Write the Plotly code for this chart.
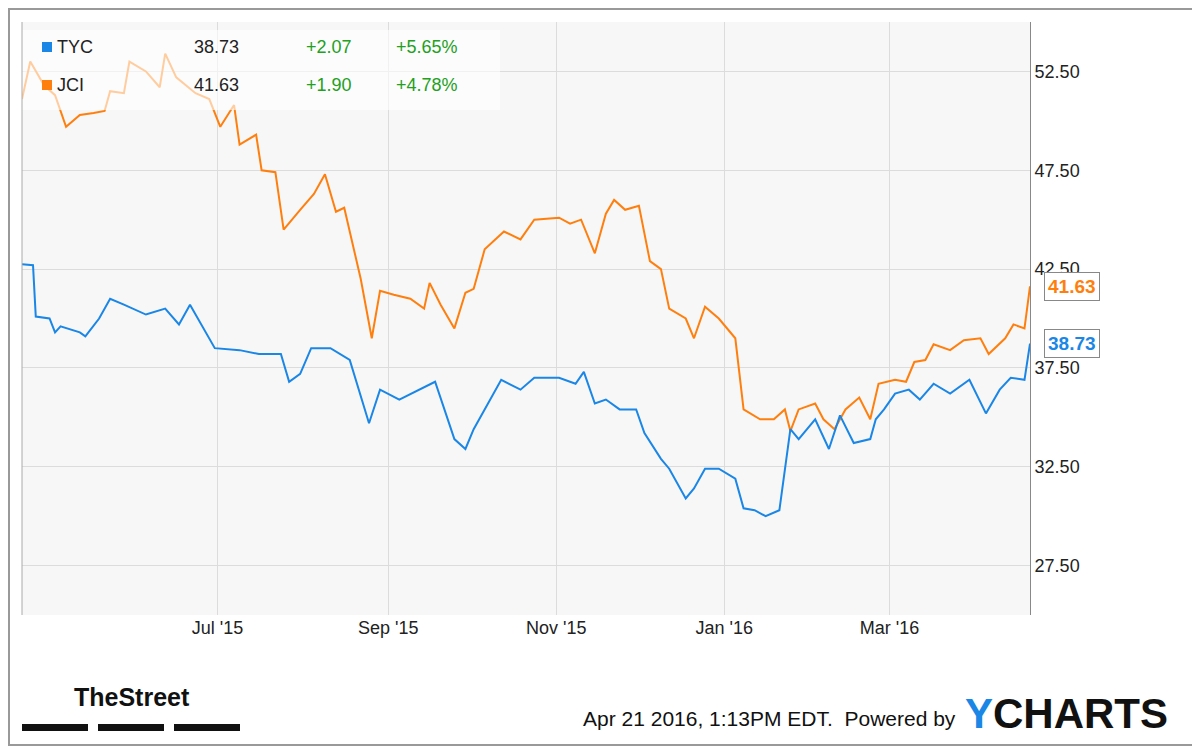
import plotly.graph_objects as go

tyc_dates = ["2015-04-21","2015-04-25","2015-04-26","2015-05-01","2015-05-03","2015-05-05","2015-05-12","2015-05-14","2015-05-19","2015-05-23","2015-05-28","2015-06-05","2015-06-12","2015-06-17","2015-06-21","2015-06-26","2015-06-30","2015-07-09","2015-07-16","2015-07-24","2015-07-27","2015-07-31","2015-08-04","2015-08-11","2015-08-18","2015-08-25","2015-08-29","2015-09-05","2015-09-12","2015-09-18","2015-09-25","2015-09-29","2015-10-02","2015-10-08","2015-10-12","2015-10-19","2015-10-24","2015-11-02","2015-11-08","2015-11-11","2015-11-15","2015-11-19","2015-11-24","2015-11-30","2015-12-03","2015-12-09","2015-12-12","2015-12-18","2015-12-21","2015-12-25","2015-12-30","2016-01-05","2016-01-08","2016-01-12","2016-01-16","2016-01-21","2016-01-25","2016-01-28","2016-02-03","2016-02-08","2016-02-12","2016-02-17","2016-02-23","2016-02-25","2016-02-28","2016-03-03","2016-03-08","2016-03-12","2016-03-17","2016-03-23","2016-03-30","2016-04-05","2016-04-10","2016-04-14","2016-04-19","2016-04-21"]
tyc_values = [42.75,42.7,40.1,40.0,39.3,39.6,39.3,39.1,40.0,41.0,40.7,40.2,40.5,39.7,40.7,39.5,38.5,38.4,38.2,38.2,36.8,37.2,38.5,38.5,37.9,34.7,36.4,35.9,36.4,36.8,33.9,33.4,34.4,35.9,36.9,36.4,37.0,37.0,36.7,37.3,35.7,35.9,35.4,35.4,34.2,32.9,32.4,30.9,31.4,32.4,32.4,31.9,30.4,30.3,30.0,30.3,34.4,33.9,34.9,33.4,35.1,33.7,33.9,34.9,35.4,36.2,36.4,35.9,36.7,36.2,36.9,35.2,36.4,37.0,36.9,38.73]

jci_dates = ["2015-04-21","2015-04-24","2015-04-29","2015-05-03","2015-05-07","2015-05-12","2015-05-17","2015-05-21","2015-05-23","2015-05-28","2015-05-30","2015-06-05","2015-06-10","2015-06-12","2015-06-16","2015-06-23","2015-06-28","2015-07-02","2015-07-07","2015-07-09","2015-07-15","2015-07-17","2015-07-22","2015-07-25","2015-07-31","2015-08-05","2015-08-09","2015-08-13","2015-08-16","2015-08-22","2015-08-26","2015-08-29","2015-09-03","2015-09-09","2015-09-14","2015-09-16","2015-09-20","2015-09-25","2015-09-29","2015-10-02","2015-10-06","2015-10-10","2015-10-13","2015-10-19","2015-10-24","2015-11-02","2015-11-06","2015-11-10","2015-11-15","2015-11-19","2015-11-22","2015-11-26","2015-12-01","2015-12-05","2015-12-09","2015-12-12","2015-12-18","2015-12-21","2015-12-25","2015-12-30","2016-01-05","2016-01-08","2016-01-14","2016-01-19","2016-01-23","2016-01-25","2016-01-28","2016-02-03","2016-02-06","2016-02-10","2016-02-14","2016-02-19","2016-02-23","2016-02-26","2016-03-03","2016-03-07","2016-03-10","2016-03-14","2016-03-17","2016-03-23","2016-03-28","2016-04-03","2016-04-06","2016-04-12","2016-04-15","2016-04-19","2016-04-21"]
jci_values = [51.1,53.0,51.8,51.3,49.7,50.3,50.4,50.5,51.5,51.4,53.0,52.5,51.7,53.4,52.2,51.4,51.1,49.7,50.8,48.8,49.3,47.5,47.4,44.5,45.5,46.3,47.3,45.4,45.6,42.0,39.0,41.4,41.2,41.0,40.5,41.8,40.7,39.5,41.3,41.5,43.5,44.0,44.4,44.0,45.0,45.1,44.8,45.0,43.3,45.3,46.0,45.5,45.7,42.9,42.5,40.5,40.0,39.0,40.6,40.0,39.0,35.4,34.9,34.9,35.4,34.3,35.4,35.7,34.9,34.4,35.4,36.0,34.9,36.7,36.9,36.8,37.8,37.9,38.7,38.4,38.9,39.0,38.2,39.0,39.7,39.5,41.63]

y_ticks = [27.5, 32.5, 37.5, 42.5, 47.5, 52.5]
x_ticks = ["2015-07-01","2015-09-01","2015-11-01","2016-01-01","2016-03-01"]
x_labels = ["Jul '15","Sep '15","Nov '15","Jan '16","Mar '16"]

legend_rows = [("TYC", "38.73", "+2.07", "+5.65%", "#1a86e6"),
               ("JCI", "41.63", "+1.90", "+4.78%", "#ff7f0e")]

BLUE = "#1a86e6"
ORANGE = "#ff7f0e"
FONT = "Liberation Sans, Arial, sans-serif"
OFF = 8  # page offset of the figure

def px(x):
    return (x - 22) / 1008

def py(y):
    return (615 - y) / 593

fig = go.Figure()
fig.add_trace(go.Scatter(x=jci_dates, y=jci_values, mode="lines",
                         line=dict(color=ORANGE, width=2), hoverinfo="skip"))
fig.add_trace(go.Scatter(x=tyc_dates, y=tyc_values, mode="lines",
                         line=dict(color=BLUE, width=2), hoverinfo="skip"))

shapes = [
    dict(type="rect", xref="paper", yref="paper", x0=0, x1=px(500), y0=py(110), y1=py(30),
         fillcolor="rgba(255,255,255,0.6)", line=dict(width=0), layer="above"),
    dict(type="rect", xref="paper", yref="paper", x0=px(9), x1=px(1198), y0=py(745), y1=py(9),
         fillcolor="rgba(0,0,0,0)", line=dict(color="#999", width=2), layer="below"),
    dict(type="line", xref="paper", yref="paper", x0=0, x1=0, y0=0, y1=1,
         line=dict(color="#aaa", width=1)),
]
for x0 in [22, 98, 174]:
    shapes.append(dict(type="rect", xref="paper", yref="paper",
                       x0=px(x0), x1=px(x0 + 66), y0=py(731), y1=py(724),
                       fillcolor="#111", line=dict(width=0)))

ann = []
for i, (name, price, chg, pct, col) in enumerate(legend_rows):
    yc = 47 + i * 38
    shapes.append(dict(type="rect", xref="paper", yref="paper",
                       x0=px(42), x1=px(52), y0=py(yc + 5), y1=py(yc - 5),
                       fillcolor=col, line=dict(width=0), layer="above"))
    for xp, txt, c in [(55, name, "#222"), (192, price, "#222"), (304, chg, "#22a022"), (394, pct, "#22a022")]:
        ann.append(dict(xref="paper", yref="paper", x=px(xp), y=py(yc), text=txt,
                        showarrow=False, xanchor="left", yanchor="middle",
                        font=dict(family=FONT, size=18, color=c)))

for val, col in [(41.63, ORANGE), (38.73, BLUE)]:
    ann.append(dict(xref="paper", yref="y", x=px(1044), y=val, text="<b>%.2f</b>" % val,
                    showarrow=False, xanchor="left", yanchor="middle",
                    font=dict(family=FONT, size=19, color=col),
                    bgcolor="white", bordercolor="#888", borderwidth=1, borderpad=3))

ann.append(dict(xref="paper", yref="paper", x=px(132), y=py(697),
                text="<b>TheStreet</b>", showarrow=False, xanchor="center", yanchor="middle",
                font=dict(family="Liberation Sans Narrow, Liberation Sans, sans-serif", size=25, color="#111")))
ann.append(dict(xref="paper", yref="paper", x=px(958), y=py(718),
                text="Apr 21 2016, 1:13PM EDT.  Powered by", showarrow=False, xanchor="right", yanchor="middle",
                font=dict(family="Liberation Sans Narrow, Liberation Sans, sans-serif", size=21, color="#111")))
ann.append(dict(xref="paper", yref="paper", x=px(963), y=py(713),
                text="<b><span style='color:#1a86e6'>Y</span>CHARTS</b>", showarrow=False,
                xanchor="left", yanchor="middle",
                font=dict(family=FONT, size=42, color="#111")))

fig.update_layout(
    width=1200 - OFF, height=747 - OFF,
    margin=dict(l=22 - OFF, r=170, t=22 - OFF, b=132),
    paper_bgcolor="white", plot_bgcolor="#f7f7f7",
    showlegend=False,
    shapes=shapes, annotations=ann,
    xaxis=dict(range=["2015-04-21", "2016-04-21"], tickvals=x_ticks, ticktext=x_labels,
               showgrid=True, gridcolor="#dcdcdc", gridwidth=1, zeroline=False,
               ticks="", tickfont=dict(family=FONT, size=18, color="#222"), showline=False),
    yaxis=dict(range=[25, 55], side="right", tickvals=y_ticks, tickformat=".2f",
               showgrid=True, gridcolor="#dcdcdc", gridwidth=1, zeroline=False,
               showline=True, linecolor="#888", linewidth=1, ticks="", ticklen=0,
               tickfont=dict(family=FONT, size=18, color="#222")),
)
fig.write_html("out.html")
